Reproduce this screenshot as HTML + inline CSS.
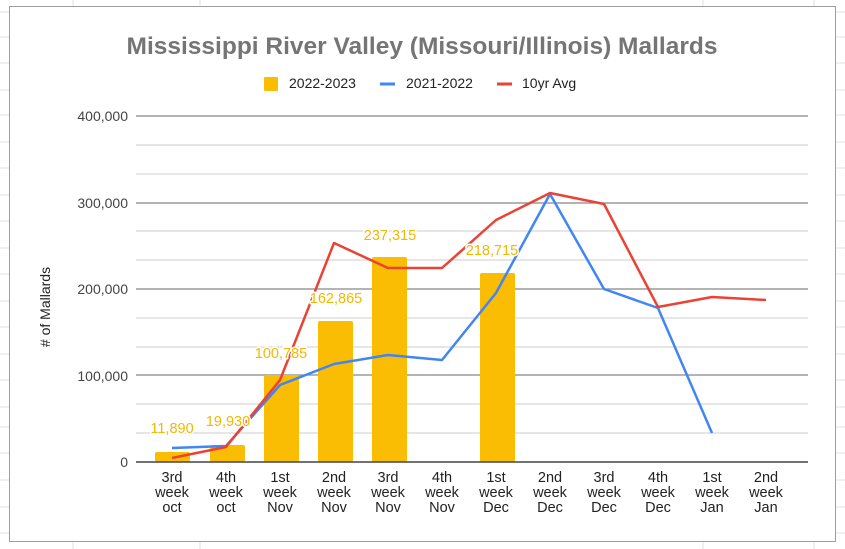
<!DOCTYPE html>
<html><head><meta charset="utf-8"><style>
html,body{margin:0;padding:0;background:#fff;}
svg{display:block;font-family:"Liberation Sans",Arial,sans-serif;}
</style></head><body>
<svg width="845" height="549" viewBox="0 0 845 549" xmlns="http://www.w3.org/2000/svg">
<g stroke="#e2e2e2" stroke-width="1">
<line x1="0" y1="12" x2="845" y2="12"/><line x1="0" y1="37" x2="845" y2="37"/><line x1="0" y1="63" x2="845" y2="63"/><line x1="0" y1="90" x2="845" y2="90"/><line x1="0" y1="115" x2="845" y2="115"/><line x1="0" y1="142" x2="845" y2="142"/><line x1="0" y1="168" x2="845" y2="168"/><line x1="0" y1="195" x2="845" y2="195"/><line x1="0" y1="221" x2="845" y2="221"/><line x1="0" y1="248" x2="845" y2="248"/><line x1="0" y1="274" x2="845" y2="274"/><line x1="0" y1="301" x2="845" y2="301"/><line x1="0" y1="327" x2="845" y2="327"/><line x1="0" y1="354" x2="845" y2="354"/><line x1="0" y1="380" x2="845" y2="380"/><line x1="0" y1="407" x2="845" y2="407"/><line x1="0" y1="427" x2="845" y2="427"/><line x1="0" y1="453" x2="845" y2="453"/><line x1="0" y1="480" x2="845" y2="480"/><line x1="0" y1="507" x2="845" y2="507"/><line x1="0" y1="533" x2="845" y2="533"/>
<line x1="73" y1="0" x2="73" y2="549"/><line x1="200" y1="0" x2="200" y2="549"/><line x1="703" y1="0" x2="703" y2="549"/><line x1="814" y1="0" x2="814" y2="549"/>
</g>
<rect x="9.5" y="6.5" width="826" height="535" fill="#fff" stroke="#9e9e9e" stroke-width="1"/>
<text x="422" y="54" text-anchor="middle" font-size="24.5" font-weight="bold" fill="#757575">Mississippi River Valley (Missouri/Illinois) Mallards</text>
<rect x="264" y="77" width="14" height="14" rx="1" fill="#fbbc04"/>
<text x="289" y="88" font-size="14" fill="#222">2022-2023</text>
<line x1="380" y1="84" x2="395" y2="84" stroke="#4285f4" stroke-width="3"/>
<text x="406" y="88" font-size="14" fill="#222">2021-2022</text>
<line x1="497" y1="84" x2="512" y2="84" stroke="#ea4335" stroke-width="3"/>
<text x="522" y="88" font-size="14" fill="#222">10yr Avg</text>
<g stroke="#cccccc" stroke-width="1">
<line x1="136" y1="145" x2="808" y2="145"/><line x1="136" y1="174" x2="808" y2="174"/>
<line x1="136" y1="231" x2="808" y2="231"/><line x1="136" y1="260" x2="808" y2="260"/>
<line x1="136" y1="318" x2="808" y2="318"/><line x1="136" y1="347" x2="808" y2="347"/>
<line x1="136" y1="404" x2="808" y2="404"/><line x1="136" y1="433" x2="808" y2="433"/>
</g>
<g stroke="#888" stroke-width="1.3">
<line x1="136" y1="116" x2="808" y2="116"/><line x1="136" y1="203" x2="808" y2="203"/>
<line x1="136" y1="289" x2="808" y2="289"/><line x1="136" y1="375" x2="808" y2="375"/>
</g>
<g font-size="14" fill="#444" text-anchor="end">
<text x="128" y="121">400,000</text><text x="128" y="208">300,000</text>
<text x="128" y="294">200,000</text><text x="128" y="381">100,000</text><text x="128" y="467">0</text>
</g>
<text transform="translate(50,307) rotate(-90)" text-anchor="middle" font-size="14" fill="#222"># of Mallards</text>
<g fill="#fbbc04">
<rect x="155" y="452" width="35" height="10" rx="2"/>
<rect x="210" y="445" width="35" height="17" rx="2"/>
<rect x="264" y="375" width="35" height="87" rx="2"/>
<rect x="318" y="321" width="35" height="141" rx="2"/>
<rect x="372" y="257" width="35" height="205" rx="2"/>
<rect x="480" y="273" width="35" height="189" rx="2"/>
</g>
<line x1="136" y1="462" x2="808" y2="462" stroke="#444" stroke-width="1.5"/>
<polyline fill="none" stroke="#4285f4" stroke-width="2.5" stroke-linejoin="round" points="172,448 226,446 280,385 334,364 388,355 442,360 496,293 550,194 604,289 658,308 712,433"/>
<polyline fill="none" stroke="#ea4335" stroke-width="2.5" stroke-linejoin="round" points="172,458 226,447 280,380 334,243 388,268 442,268 496,220 550,193 604,204 658,307 712,297 766,300"/>
<g font-size="14.5" fill="#f2b800" text-anchor="middle" stroke="#fff" stroke-width="3" paint-order="stroke" stroke-linejoin="round">
<text x="172" y="433">11,890</text>
<text x="228" y="426">19,930</text>
<text x="281" y="358">100,785</text>
<text x="336" y="303">162,865</text>
<text x="390" y="240">237,315</text>
<text x="492" y="255">218,715</text>
</g>
<g font-size="14.5" fill="#222" text-anchor="middle">
<text x="172" y="482">3rd</text><text x="172" y="497">week</text><text x="172" y="512">oct</text>
<text x="226" y="482">4th</text><text x="226" y="497">week</text><text x="226" y="512">oct</text>
<text x="280" y="482">1st</text><text x="280" y="497">week</text><text x="280" y="512">Nov</text>
<text x="334" y="482">2nd</text><text x="334" y="497">week</text><text x="334" y="512">Nov</text>
<text x="388" y="482">3rd</text><text x="388" y="497">week</text><text x="388" y="512">Nov</text>
<text x="442" y="482">4th</text><text x="442" y="497">week</text><text x="442" y="512">Nov</text>
<text x="496" y="482">1st</text><text x="496" y="497">week</text><text x="496" y="512">Dec</text>
<text x="550" y="482">2nd</text><text x="550" y="497">week</text><text x="550" y="512">Dec</text>
<text x="604" y="482">3rd</text><text x="604" y="497">week</text><text x="604" y="512">Dec</text>
<text x="658" y="482">4th</text><text x="658" y="497">week</text><text x="658" y="512">Dec</text>
<text x="712" y="482">1st</text><text x="712" y="497">week</text><text x="712" y="512">Jan</text>
<text x="766" y="482">2nd</text><text x="766" y="497">week</text><text x="766" y="512">Jan</text>
</g>
</svg>
</body></html>
